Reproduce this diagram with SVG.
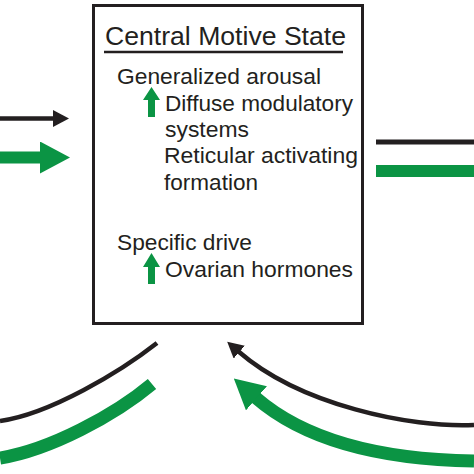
<svg xmlns="http://www.w3.org/2000/svg" width="474" height="474" viewBox="0 0 474 474">
  <style>
    .t { font-family: "Liberation Sans", Arial, sans-serif; fill: #231f20; }
    .body { font-size: 22px; }
    .title { font-size: 26px; }
    .blk { stroke: #231f20; fill: none; }
    .grn { stroke: #0b9444; fill: none; }
    .gfill { fill: #0b9444; }
    .bfill { fill: #231f20; }
  </style>
  <defs>
    <marker id="headBlack" markerUnits="userSpaceOnUse" viewBox="0 0 16 17" refX="1" refY="8.5" markerWidth="16" markerHeight="17" orient="auto">
      <path d="M0,0 L16,8.5 L0,17 z" class="bfill"/>
    </marker>
    <marker id="headGreen" markerUnits="userSpaceOnUse" viewBox="0 0 30 32" refX="1" refY="16" markerWidth="30" markerHeight="32" orient="auto">
      <path d="M0,0 L30,16 L0,32 z" class="gfill"/>
    </marker>
  </defs>

  <g id="central-motive-state">
    <rect x="93.5" y="5.5" width="269" height="318" fill="#ffffff" stroke="#231f20" stroke-width="3"/>
    <text class="t title" x="105" y="45" textLength="241" lengthAdjust="spacingAndGlyphs">Central Motive State</text>
    <line x1="104" y1="52" x2="343" y2="52" stroke="#231f20" stroke-width="2.5"/>
    <text class="t body" x="117" y="84" textLength="204" lengthAdjust="spacingAndGlyphs">Generalized arousal</text>
    <path d="M151.5,87 L160,100 L155,100 L155,117 L148,117 L148,100 L143,100 z" class="gfill"/>
    <text class="t body" x="165" y="111" textLength="188" lengthAdjust="spacingAndGlyphs">Diffuse modulatory</text>
    <text class="t body" x="165" y="137" textLength="84" lengthAdjust="spacingAndGlyphs">systems</text>
    <text class="t body" x="164" y="163" textLength="194" lengthAdjust="spacingAndGlyphs">Reticular activating</text>
    <text class="t body" x="164" y="190" textLength="94" lengthAdjust="spacingAndGlyphs">formation</text>
    <text class="t body" x="117" y="250" textLength="135" lengthAdjust="spacingAndGlyphs">Specific drive</text>
    <path d="M151.5,253 L160,267 L155,267 L155,284 L148,284 L148,267 L143,267 z" class="gfill"/>
    <text class="t body" x="165" y="277" textLength="188" lengthAdjust="spacingAndGlyphs">Ovarian hormones</text>
  </g>

  <g id="connectors">
    <line x1="0" y1="118.5" x2="54" y2="118.5" class="blk" stroke-width="4.5" marker-end="url(#headBlack)"/>
    <line x1="0" y1="157.5" x2="41" y2="157.5" class="grn" stroke-width="12" marker-end="url(#headGreen)"/>
    <line x1="376" y1="142" x2="474" y2="142" class="blk" stroke-width="5"/>
    <line x1="376" y1="171" x2="474" y2="171" class="grn" stroke-width="12"/>
    <path d="M0,421 C50,414 120,372 157,343" class="blk" stroke-width="4.5"/>
    <path d="M0,458 C50,450 115,415 152,384" class="grn" stroke-width="13"/>
    <path d="M474,425 C410,428 300,405 238.5,351.5" class="blk" stroke-width="4.5" marker-end="url(#headBlack)"/>
    <path d="M474,461 C410,460 316,450 255.7,397.6" class="grn" stroke-width="13" marker-end="url(#headGreen)"/>
  </g>
</svg>
